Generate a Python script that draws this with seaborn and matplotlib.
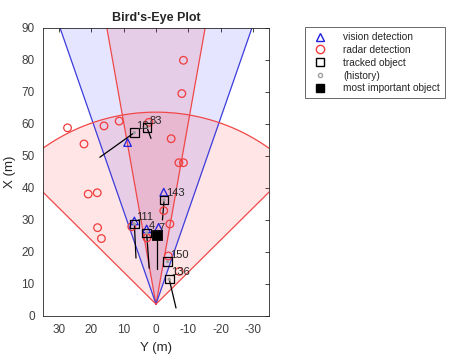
import numpy as np
import pandas as pd
import matplotlib
matplotlib.use("Agg")
import matplotlib.pyplot as plt
from matplotlib.lines import Line2D
import seaborn as sns

# sensor coverage: name, mount X, half angle (deg), range (m)
cov_names = ["radar long", "vision", "radar mid"]
cov_x0 = [3.7, 3.7, 3.7]
cov_half = [10, 19, 45]
cov_range = [174, 150, 60]
cov_kind = ["radar", "vision", "radar"]

# radar detections (lateral Y, longitudinal X)
radar_y = [-8.5, -8.0, 27.4, 16.1, 11.4, 22.3, -4.7, -7.1, -8.5, 21.0, 18.2,
           18.1, 16.9, -2.4, -4.3, 7.5, 2.8, -3.8, -7.2, 2.2]
radar_x = [79.9, 69.5, 58.8, 59.4, 60.9, 53.75, 55.4, 47.9, 47.9, 38.1, 38.5,
           27.6, 24.2, 32.9, 28.75, 27.9, 24.4, 18.75, 13.9, 60.5]

# vision detections
vision_y = [8.8, -2.4, 6.7, 2.9, -0.8]
vision_x = [54.2, 38.7, 29.7, 27.2, 27.7]

# tracked objects
track_ids = ["13", "83", "143", "111", "4", "150", "136"]
track_y = [6.7, 2.8, -2.5, 6.7, 2.9, -3.6, -4.1]
track_x = [57.3, 58.9, 36.25, 28.75, 26.0, 17.0, 11.5]
# track trail end points
trail_y = [17.4, 1.55, -2.0, 6.2, 2.1, -3.6, -6.2]
trail_x = [49.6, 55.5, 30.0, 18.1, 14.9, 17.0, 2.5]

# most important object
mio_id = "7"
mio_y = [-0.2]
mio_x = [25.3]
mio_trail_y = [-0.2]
mio_trail_x = [14.7]

sns.set_style("white")
plt.rcParams['font.family'] = ['Liberation Sans', 'DejaVu Sans']
plt.rcParams['axes.unicode_minus'] = False

fig = plt.figure(figsize=(4.74, 3.55), dpi=100)
ax = fig.add_axes([0.0907, 0.1099, 0.4768, 0.8113])

colors = {"radar": "#ff0000", "vision": "#0000ff"}
edge = {"radar": "#f04848", "vision": "#3c3cdc"}
for x0, half, rng, kind in zip(cov_x0, cov_half, cov_range, cov_kind):
    th = np.radians(np.linspace(-half, half, 200))
    px = np.concatenate([[x0], x0 + rng * np.cos(th), [x0]])
    py = np.concatenate([[0], rng * np.sin(th), [0]])
    ax.fill(py, px, color=colors[kind], alpha=0.1, lw=0, zorder=1)
    ax.plot(py, px, color=edge[kind], lw=0.9, zorder=2)

# trails
for ty, tx, ey, ex in zip(track_y + mio_y, track_x + mio_x,
                          trail_y + mio_trail_y, trail_x + mio_trail_x):
    ax.plot([ty, ey], [tx, ex], color="black", lw=0.9, zorder=3)

radar = pd.DataFrame({"Y": radar_y, "X": radar_x})
vision = pd.DataFrame({"Y": vision_y, "X": vision_x})
tracks = pd.DataFrame({"Y": track_y, "X": track_x, "id": track_ids})
mio = pd.DataFrame({"Y": mio_y, "X": mio_x})

sns.scatterplot(data=radar, x="Y", y="X", marker="o", s=30, facecolors="none",
                edgecolor="#f03c3c", linewidth=0.9, ax=ax, zorder=4)
sns.scatterplot(data=vision, x="Y", y="X", marker="^", s=30, facecolors="none",
                edgecolor="#2020e0", linewidth=0.9, ax=ax, zorder=5)
sns.scatterplot(data=tracks, x="Y", y="X", marker="o", s=6, color="#a0a0a0",
                edgecolor="none", ax=ax, zorder=6)
sns.scatterplot(data=tracks, x="Y", y="X", marker="s", s=38, facecolors="none",
                edgecolor="black", linewidth=0.9, ax=ax, zorder=7)
sns.scatterplot(data=mio, x="Y", y="X", marker="s", s=55, color="black",
                edgecolor="black", ax=ax, zorder=7)

for ty, tx, tid in zip(track_y + mio_y, track_x + mio_x, track_ids + [mio_id]):
    ax.annotate(tid, (ty, tx), xytext=(1.5, 5), textcoords="offset points",
                ha="left", va="center", fontsize=8, color="#262626", zorder=8)

ax.set_xlim(35, -35)
ax.set_ylim(0, 90)
ax.set_xticks([30, 20, 10, 0, -10, -20, -30])
ax.set_yticks(range(0, 91, 10))
ax.tick_params(direction="in", length=3, width=0.6, colors="#262626",
               labelcolor="#404040", labelsize=8.5, top=True, right=True,
               labeltop=False, labelright=False, pad=6)
for sp in ax.spines.values():
    sp.set_color("#262626")
    sp.set_linewidth(0.6)
ax.set_xlabel("Y (m)", fontsize=9.5, color="#262626", labelpad=4)
ax.set_ylabel("X (m)", fontsize=9.5, color="#262626", labelpad=4)
ax.set_title("Bird's-Eye Plot", fontsize=9, fontweight="bold", pad=5)

handles = [
    Line2D([], [], ls="none", marker="^", mfc="none", mec="#2020e0", ms=6),
    Line2D([], [], ls="none", marker="o", mfc="none", mec="#f03c3c", ms=6),
    Line2D([], [], ls="none", marker="s", mfc="none", mec="black", ms=6),
    Line2D([], [], ls="none", marker="o", mfc="none", mec="#a0a0a0", ms=3),
    Line2D([], [], ls="none", marker="s", mfc="black", mec="black", ms=6),
]
labels = ["vision detection", "radar detection", "tracked object", "(history)",
          "most important object"]
leg = fig.legend(handles, labels, loc="upper left", bbox_to_anchor=(0.643, 0.924),
                 fontsize=7.3, frameon=True, fancybox=False, borderpad=0.5,
                 labelspacing=0.28, handletextpad=1.3, borderaxespad=0)
leg.get_frame().set_edgecolor("#262626")
leg.get_frame().set_linewidth(0.6)

fig.savefig("out.png", dpi=100)
